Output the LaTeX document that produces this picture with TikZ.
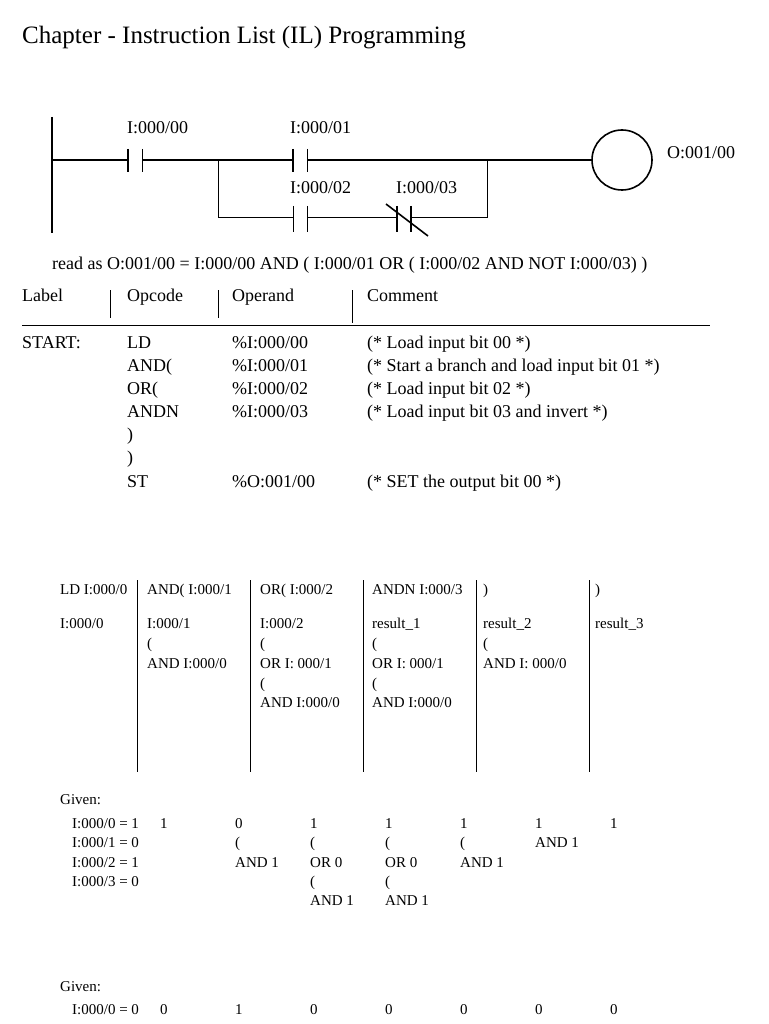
\documentclass[tikz,border=0pt]{standalone}
\usepackage{fontspec}
\setmainfont{Liberation Serif}
\begin{document}
\begin{tikzpicture}[x=1pt,y=-1pt,
  t/.style={anchor=west,inner sep=0,text height=0.7em,text depth=0.2em,font=\fontsize{18}{20}\selectfont},
  s/.style={anchor=west,inner sep=0,text height=0.7em,text depth=0.2em,font=\fontsize{15}{17}\selectfont},
  lbl/.style={t},
  w/.style={line width=1pt},
  tk/.style={line width=1.6pt}]
\useasboundingbox (0,0) rectangle (768,1024);
\node[anchor=west,inner sep=0,text height=0.7em,text depth=0.2em,font=\fontsize{25}{28}\selectfont] (title) at (22,41) {Chapter - Instruction List (IL) Programming};
% ladder
\coordinate (r1) at (52,117); \coordinate (r2) at (52,233);
\draw[tk] (r1) -- (r2);
\coordinate (a0) at (52,160); \coordinate (a1) at (128,160); \coordinate (a2) at (142,160);
\coordinate (b1) at (218,160); \coordinate (c1) at (293,160); \coordinate (c2) at (307,160);
\coordinate (e1) at (487,160);
\node[circle,draw,tk,minimum size=60pt,inner sep=0] (coil) at (622,160) {};
\draw[tk] (a0) -- (a1); \draw[tk] (a2) -- (b1) -- (c1); \draw[tk] (c2) -- (e1) -- (coil.west);
\draw[tk] (128,149) -- (128,172); \draw[w] (142,149) -- (142,172);
\draw[tk] (293,149) -- (293,172); \draw[w] (307,149) -- (307,172);
\coordinate (b2) at (218,218); \coordinate (d1) at (293,218); \coordinate (d2) at (307,218);
\coordinate (f1) at (397,218); \coordinate (f2) at (411,218); \coordinate (e2) at (487,218);
\draw[w] (b1) -- (b2) -- (d1); \draw[w] (d2) -- (f1); \draw[w] (f2) -- (e2) -- (e1);
\draw[w] (293,206) -- (293,232); \draw[w] (307,206) -- (307,232);
\draw[tk] (397,206) -- (397,232); \draw[tk] (411,206) -- (411,232);
\draw[tk] (386,204) -- (428,236);
\node[lbl] (l0) at (127,131) {I:000/00};
\node[lbl] (l1) at (290,131) {I:000/01};
\node[lbl] (l2) at (290,191) {I:000/02};
\node[lbl] (l3) at (396,191) {I:000/03};
\node[lbl] (lo) at (667,156) {O:001/00};
\node[lbl] (read) at (52,267) {read as O:001/00 = I:000/00 AND ( I:000/01 OR ( I:000/02 AND NOT I:000/03) )};
% table
\node[t] (h1) at (22,299) {Label}; \node[t] (h2) at (127,299) {Opcode};
\node[t] (h3) at (232,299) {Operand}; \node[t] (h4) at (367,299) {Comment};
\draw[w] (110,290) -- (110,318); \draw[w] (218,290) -- (218,318); \draw[w] (352,290) -- (352,323);
\draw[w] (22,325) -- (710,325);
\node[t] at (22,346) {START:};
\node[t] at (127,346) {LD};   \node[t] at (232,346) {\%I:000/00}; \node[t] at (367,346) {(* Load input bit 00 *)};
\node[t] at (127,369) {AND(}; \node[t] at (232,369) {\%I:000/01}; \node[t] at (367,369) {(* Start a branch and load input bit 01 *)};
\node[t] at (127,392) {OR(};  \node[t] at (232,392) {\%I:000/02}; \node[t] at (367,392) {(* Load input bit 02 *)};
\node[t] at (127,415) {ANDN}; \node[t] at (232,415) {\%I:000/03}; \node[t] at (367,415) {(* Load input bit 03 and invert *)};
\node[t] at (127,438) {)};
\node[t] at (127,461) {)};
\node[t] at (127,485) {ST};   \node[t] at (232,485) {\%O:001/00}; \node[t] at (367,485) {(* SET the output bit 00 *)};
% lower
\foreach \x in {137,250,363,476,589}{\draw[w] (\x,580) -- (\x,772);}
\node[s] at (60,592) {LD I:000/0}; \node[s] at (147,592) {AND( I:000/1}; \node[s] at (260,592) {OR( I:000/2};
\node[s] at (372,592) {ANDN I:000/3}; \node[s] at (483,592) {)}; \node[s] at (595,592) {)};
\node[s] at (60,626) {I:000/0};
\node[s] at (147,626) {I:000/1}; \node[s] at (147,646) {(}; \node[s] at (147,666) {AND I:000/0};
\node[s] at (260,626) {I:000/2}; \node[s] at (260,646) {(}; \node[s] at (260,666) {OR I: 000/1}; \node[s] at (260,686) {(}; \node[s] at (260,705) {AND I:000/0};
\node[s] at (372,626) {result\_1}; \node[s] at (372,646) {(}; \node[s] at (372,666) {OR I: 000/1}; \node[s] at (372,686) {(}; \node[s] at (372,705) {AND I:000/0};
\node[s] at (483,626) {result\_2}; \node[s] at (483,646) {(}; \node[s] at (483,666) {AND I: 000/0};
\node[s] at (595,626) {result\_3};
\node[s] at (60,802) {Given:};
\node[s] at (72,826) {I:000/0 = 1}; \node[s] at (72,845) {I:000/1 = 0};
\node[s] at (72,865) {I:000/2 = 1}; \node[s] at (72,884) {I:000/3 = 0};
\foreach \x/\v in {160/1,235/0,310/1,385/1,460/1,535/1,610/1}{\node[s] at (\x,826) {\v};}
\node[s] at (235,845) {(}; \node[s] at (235,865) {AND 1};
\node[s] at (310,845) {(}; \node[s] at (310,865) {OR 0}; \node[s] at (310,884) {(}; \node[s] at (310,903) {AND 1};
\node[s] at (385,845) {(}; \node[s] at (385,865) {OR 0}; \node[s] at (385,884) {(}; \node[s] at (385,903) {AND 1};
\node[s] at (460,845) {(}; \node[s] at (460,865) {AND 1};
\node[s] at (535,845) {AND 1};
\node[s] at (60,989) {Given:};
\node[s] at (72,1012) {I:000/0 = 0};
\foreach \x/\v in {160/0,235/1,310/0,385/0,460/0,535/0,610/0}{\node[s] at (\x,1012) {\v};}
\end{tikzpicture}
\end{document}
